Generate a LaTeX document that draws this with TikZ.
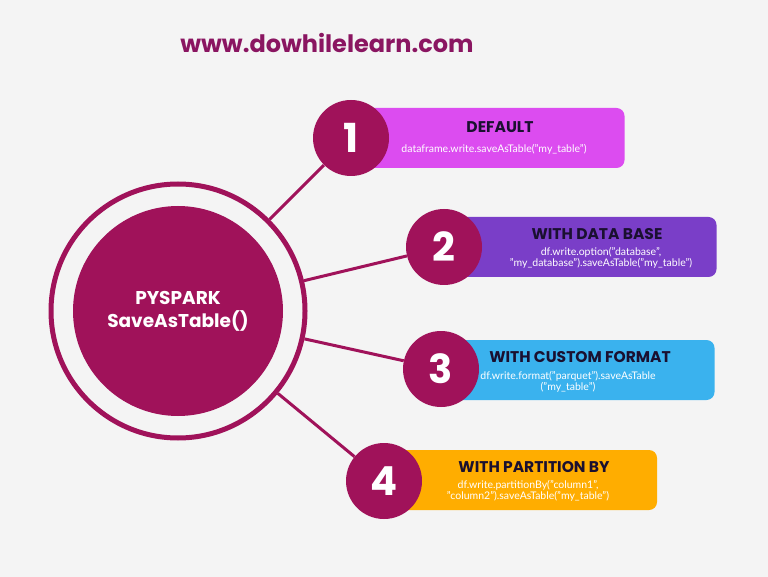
\documentclass[tikz,border=0pt]{standalone}
\usepackage{fontspec}
\usetikzlibrary{calc}
\setmainfont{Lato}
\newfontfamily\headfont{Poppins}
\definecolor{bgcol}{HTML}{F4F4F4}
\definecolor{plum}{HTML}{A0125A}
\definecolor{titlecol}{HTML}{8A1561}
\definecolor{pinkbox}{HTML}{DC4CF0}
\definecolor{purplebox}{HTML}{7A3EC8}
\definecolor{bluebox}{HTML}{3AB2EE}
\definecolor{orangebox}{HTML}{FFAD00}
\definecolor{inkcol}{HTML}{1A1030}
\tikzset{
  numdot/.style={circle,fill=plum,minimum size=76pt,inner sep=0pt,text=white,font=\headfont\bfseries\fontsize{40}{40}\selectfont},
  infobox/.style={rounded corners=8pt,minimum height=60pt,inner sep=0pt},
  headtxt/.style={font=\headfont\bfseries\fontsize{15.5}{15.5}\selectfont,text=inkcol},
  codetxt/.style={font=\fontsize{10.5}{11.5}\selectfont,text=white,align=center},
  spoke/.style={plum,line width=3pt}
}
\begin{document}
\begin{tikzpicture}[x=1pt,y=-1pt]
\fill[bgcol] (0,0) rectangle (768,577);
\useasboundingbox (0,0) rectangle (768,577);

% title
\node[font=\headfont\bfseries\fontsize{24}{24}\selectfont,text=titlecol] (title) at (327,43) {www.dowhilelearn.com};

% boxes
\node[infobox,fill=pinkbox,minimum width=265pt] (box1) at (492,138) {};
\node[infobox,fill=purplebox,minimum width=267pt] (box2) at (583,247) {};
\node[infobox,fill=bluebox,minimum width=275pt] (box3) at (577,370) {};
\node[infobox,fill=orangebox,minimum width=272pt] (box4) at (521,480) {};

% box texts
\node[headtxt] (head1) at (500,127) {DEFAULT};
\node[codetxt] (code1) at (494,149) {dataframe.write.saveAsTable("my\_table")};
\node[headtxt] (head2) at (597,234) {WITH DATA BASE};
\node[codetxt] (code2) at (601,258) {df.write.option("database",\\"my\_database").saveAsTable("my\_table")};
\node[headtxt] (head3) at (580,357) {WITH CUSTOM FORMAT};
\node[codetxt] (code3) at (568,382) {df.write.format("parquet").saveAsTable\\("my\_table")};
\node[headtxt] (head4) at (534,467) {WITH PARTITION BY};
\node[codetxt] (code4) at (528,491) {df.write.partitionBy("column1",\\"column2").saveAsTable("my\_table")};

% centre
\coordinate (hub) at (178,311);
\node[circle,fill=plum,minimum size=210pt,inner sep=0pt] (core) at (hub) {};
\draw[plum,line width=5pt] (hub) circle [radius=127];

% numbers
\node[numdot] (n1) at (351,138) {1};
\node[numdot] (n2) at (444,247) {2};
\node[numdot] (n3) at (441,369) {3};
\node[numdot] (n4) at (384,481) {4};

% spokes
\foreach \k in {1,...,4}
  \draw[spoke] ($(hub)!129.5pt!(n\k)$) -- (n\k);

\node[text=white,align=center,font=\headfont\bfseries\fontsize{18.5}{23}\selectfont] (coretxt) at (hub) {PYSPARK\\SaveAsTable()};
\end{tikzpicture}
\end{document}
